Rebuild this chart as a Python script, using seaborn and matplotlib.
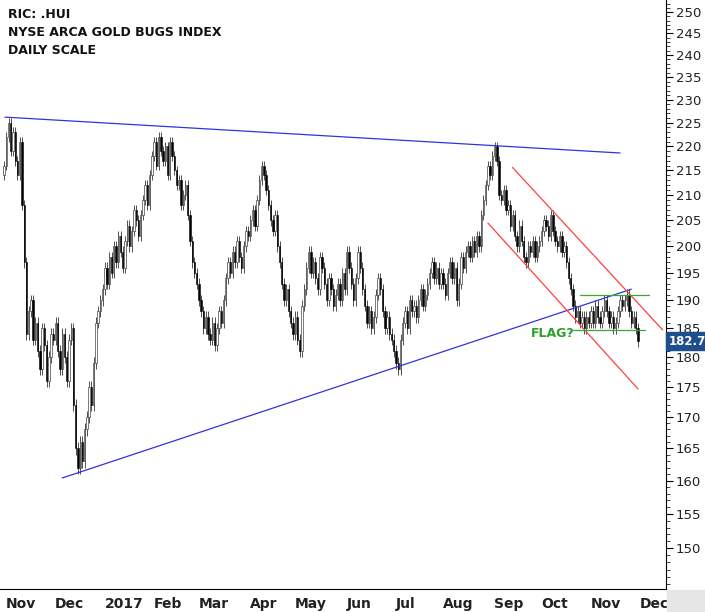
import numpy as np
import pandas as pd
import matplotlib
matplotlib.use("Agg")
import matplotlib.pyplot as plt
import matplotlib.ticker as mt
import seaborn as sns

nov16 = [216,222,225,219,223,217,214,221,208,197,184,188,190,183,186,181,178,185,182,176,180,184]
dec16 = [183,186,181,178,184,180,176,183,185,172,165,162,166,163,168,170,175,172,179,186,188,190]
jan17 = [192,196,193,198,195,200,197,202,199,196,201,204,200,203,207,205,202,206,209,212,208,214]
feb17 = [218,221,216,222,219,217,220,214,221,218,215,212,213,208,210,212,206,201,197,195]
mar17 = [193,190,188,185,187,184,183,186,182,185,188,186,190,194,197,195,199,197,201,198,196,200,203]
apr17 = [202,205,207,204,209,213,216,214,211,208,205,203,206,200,197,193,190,192,188,186]
may17 = [184,187,183,181,189,192,196,199,195,197,194,192,198,196,193,190,194,192,189,191,193,190,195]
jun17 = [192,199,196,193,190,194,199,196,192,189,186,188,185,187,191,194,192,188,185,187,184,183]
jul17 = [181,179,178,183,186,188,185,190,188,189,187,190,192,189,191,193,195,197,194,196,193]
aug17 = [195,193,191,195,197,194,196,190,193,198,196,199,200,198,201,199,202,200,206,209,212,216,214]
sep17 = [218,220,217,210,209,211,207,208,204,206,202,200,204,201,198,197,200,199,201,198,200]
oct17 = [201,203,205,204,202,206,203,201,200,202,199,200,197,194,192,189,187,188,186,187,185,187]
nov17 = [186,188,186,189,187,186,188,190,188,186,187,185,186,188,190,189,190,191,188,186,187,185]
dec17 = [182.7]
closes = np.array(nov16+dec16+jan17+feb17+mar17+apr17+may17+jun17+jul17+aug17+sep17+oct17+nov17+dec17, float)
first_open = 214.0
wick = 1.0
last_price = "182.7"

blue_top = ([0.4, 275], [226.2, 218.6])
blue_low = ([26, 280], [160.4, 192.0])
red_top = ([227, 294], [215.6, 184.7])
red_low = ([216, 283], [204.5, 174.6])
green_top = ([257, 288], [191.0, 191.0])
green_low = ([254, 286], [184.7, 184.7])

dates = pd.bdate_range("2016-11-01", periods=len(closes))
opens = np.concatenate([[first_open], closes[:-1]])
highs = np.maximum(opens, closes) + wick
lows = np.minimum(opens, closes) - wick
idx = np.arange(len(closes))

sns.set_style("white")
fig = plt.figure(figsize=(7.05, 6.12), dpi=100)
ax = fig.add_axes([0, 23/612, 666/705, 589/612])
ax.set_yscale("log")
ax.set_ylim(144.3, 252.9)
ax.set_xlim(-1.8, 295.5)

ax.vlines(idx, lows, highs, color="#333333", lw=0.6, zorder=2)
up = closes >= opens
bot = np.minimum(opens, closes)
hgt = np.maximum(np.abs(closes - opens), 0.25)
ax.bar(idx[up], hgt[up], bottom=bot[up], width=0.6, color="white", edgecolor="#444444", lw=0.5, zorder=3)
ax.bar(idx[~up], hgt[~up], bottom=bot[~up], width=0.6, color="black", edgecolor="black", lw=0.4, zorder=3)

for (xs, ys), c in [(blue_top, "#3333dd"), (blue_low, "#3333dd"), (red_top, "#ff4040"), (red_low, "#ff4040"),
                    (green_top, "#33aa33"), (green_low, "#33aa33")]:
    sns.lineplot(x=xs, y=ys, ax=ax, color=c, lw=0.9, zorder=4)
ax.text(235, 184.0, "FLAG?", color="#2ca02c", fontsize=9, fontweight="bold", ha="left", va="center")

for s in ["left", "top"]:
    ax.spines[s].set_visible(False)
for s in ["right", "bottom"]:
    ax.spines[s].set_color("black")
    ax.spines[s].set_linewidth(0.8)
ax.yaxis.tick_right()
ax.yaxis.set_major_locator(mt.FixedLocator(np.arange(150, 251, 5)))
ax.yaxis.set_major_formatter(mt.FixedFormatter([str(v) for v in range(150, 251, 5)]))
ax.yaxis.set_minor_locator(mt.FixedLocator(np.arange(145, 253, 1)))
ax.yaxis.set_minor_formatter(mt.NullFormatter())
ax.tick_params(axis="y", which="major", length=5, width=0.8, labelsize=9.5, pad=2, colors="black", labelcolor="#222222")
ax.tick_params(axis="y", which="minor", length=3, width=0.6)

s = pd.Series(idx, index=dates)
month_starts = [g.iloc[0] for _, g in s.groupby([dates.year, dates.month])]
month_dates = [dates[i] for i in month_starts]
labels = [("2017" if (d.month == 1) else d.strftime("%b")) for d in month_dates]
week_starts = [i for i in idx if dates[i].weekday() == 0]
ax.xaxis.set_major_locator(mt.FixedLocator([m - 0.5 for m in month_starts]))
ax.xaxis.set_major_formatter(mt.NullFormatter())
ax.xaxis.set_minor_locator(mt.FixedLocator([w - 0.5 for w in week_starts]))
ax.tick_params(axis="x", which="major", length=20, width=0.8, direction="out")
ax.tick_params(axis="x", which="minor", length=5, width=0.6, direction="out")
for m, lab in zip(month_starts, labels):
    ax.annotate(lab, xy=(m + 0.8, 0), xycoords=("data", "axes fraction"), xytext=(0, -11),
                textcoords="offset points", fontsize=10, fontweight="bold",
                ha="left", va="center", color="#222222", annotation_clip=False)

ax.annotate(last_price, xy=(1.0, 182.7), xycoords=("axes fraction", "data"), xytext=(2, 0),
            textcoords="offset points", ha="left", va="center", fontsize=8.5, fontweight="bold",
            color="white", bbox=dict(boxstyle="square,pad=0.2", fc="#1f4e8c", ec="#1f4e8c"),
            annotation_clip=False, zorder=10)

for k, t in enumerate(["RIC: .HUI", "NYSE ARCA GOLD BUGS INDEX", "DAILY SCALE"]):
    fig.text(8/705, 1 - (15 + 18*k)/612, t, fontsize=9, fontweight="bold", ha="left", va="center", color="#111111")

fig.patches.append(matplotlib.patches.Rectangle((667/705, 0), 38/705, 22/612, transform=fig.transFigure,
                                                 color="#e6e6e6", zorder=0))
fig.savefig("out.png", dpi=100)
